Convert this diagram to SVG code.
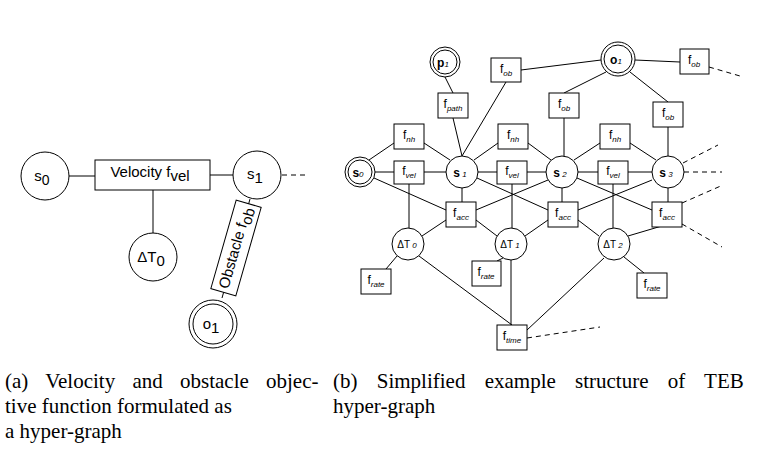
<svg xmlns="http://www.w3.org/2000/svg" width="760" height="475" viewBox="0 0 760 475">
<style>
.n{fill:#fff;stroke:#000;stroke-width:1}
.l{stroke:#000;stroke-width:1;fill:none}
.d{stroke:#000;stroke-width:1;fill:none;stroke-dasharray:5,4}
text{font-family:"Liberation Sans",Arial,sans-serif;fill:#000}
.a{font-size:15px;text-anchor:middle}
.b{font-size:12px;text-anchor:middle}
.t{font-size:10px;text-anchor:middle}
.bs{font-size:12px;text-anchor:middle;font-weight:bold}
.s{font-size:8px;font-style:italic;font-weight:normal}
.c{font-family:"Liberation Serif","Times New Roman",serif;font-size:21px}
</style>
<rect width="760" height="475" fill="#fff"/>
<g id="connectors">
<path class="l" d="M69,176H95M210,175H233M153,190V233M250,199L222,298"/>
<path class="d" d="M282,175H305"/>
<path class="l" d="M445,77L453,93M453,118L462,156M506,82L462,156M521,70L601,60M635,60L680,62M606,72L564,93M564,118V156M630,72L668,102M668,127V156"/>
<path class="d" d="M709,67L740,76M683,163L718,145M684,172H722M682,203L723,185M682,224L722,247M527,338L600,327"/>
<path class="l" d="M375,172H394M424,172H446M478,172H497M527,172H546M578,172H598M628,172H652"/>
<path class="l" d="M369,160L394,143M424,143L450,160M474,160L498,143M528,143L551,160M574,160L600,143M630,143L656,160"/>
<path class="l" d="M409,184V228M512,184V228M613,184V228"/>
<path class="l" d="M374,178L446,210M462,188V202M548,180L476,210M476,220L497,236M446,220L422,236"/>
<path class="l" d="M477,178L548,210M562,188V202M652,180L578,210M578,220L599,236M548,220L525,236"/>
<path class="l" d="M577,178L652,210M668,188V202M682,220L628,236"/>
<path class="l" d="M397,256L386,269M419,256L512,325M511,260V325M503,258L497,261M604,258L527,330M624,257L644,273"/>
</g>
<g id="a_s0"><circle class="n" cx="45" cy="176" r="24"/><text class="a" x="42" y="181">s<tspan font-size="14" dy="4">0</tspan></text></g>
<g id="a_vel"><rect class="n" x="95" y="160" width="115" height="30"/><text class="a" x="150" y="177">Velocity f<tspan dy="4">vel</tspan></text></g>
<g id="a_s1"><circle class="n" cx="257" cy="175" r="24"/><text class="a" x="255" y="179">s<tspan dy="4">1</tspan></text></g>
<g id="a_dt0"><circle class="n" cx="153" cy="257" r="24"/><text class="a" x="151" y="262">ΔT<tspan dy="4">0</tspan></text></g>
<g id="a_ob" transform="translate(236,248) rotate(-74)"><rect class="n" x="-46" y="-13" width="92" height="26"/><text class="a" x="0" y="4">Obstacle f<tspan dy="4">ob</tspan></text></g>
<g id="a_o1"><circle class="n" cx="213" cy="324" r="24"/><circle class="n" cx="213" cy="324" r="20"/><text class="a" x="211" y="329">o<tspan dy="4">1</tspan></text></g>

<g id="p1"><circle class="n" cx="445" cy="62" r="15"/><circle class="n" cx="445" cy="62" r="12"/><text class="bs" x="443" y="67">p<tspan class="s">1</tspan></text></g>
<g id="o1"><circle class="n" cx="618" cy="59" r="17"/><circle class="n" cx="618" cy="59" r="14"/><text class="bs" x="616" y="64">o<tspan class="s">1</tspan></text></g>
<g id="s0"><circle class="n" cx="360" cy="172" r="15"/><circle class="n" cx="360" cy="172" r="12"/><text class="bs" x="358" y="177">s<tspan class="s">0</tspan></text></g>
<g id="s1"><circle class="n" cx="462" cy="172" r="16"/><text class="bs" x="460" y="177">s<tspan class="s"> 1</tspan></text></g>
<g id="s2"><circle class="n" cx="562" cy="172" r="16"/><text class="bs" x="560" y="177">s<tspan class="s"> 2</tspan></text></g>
<g id="s3"><circle class="n" cx="668" cy="172" r="16"/><text class="bs" x="666" y="177">s<tspan class="s"> 3</tspan></text></g>
<g id="dt0"><circle class="n" cx="408" cy="244" r="16"/><text class="t" x="407" y="248">ΔT<tspan class="s"> 0</tspan></text></g>
<g id="dt1"><circle class="n" cx="511" cy="244" r="16"/><text class="t" x="510" y="248">ΔT<tspan class="s"> 1</tspan></text></g>
<g id="dt2"><circle class="n" cx="614" cy="244" r="16"/><text class="t" x="613" y="248">ΔT<tspan class="s"> 2</tspan></text></g>

<g id="fob1"><rect class="n" x="491" y="58" width="30" height="24"/><text class="b" x="506" y="73">f<tspan class="s" dy="3">ob</tspan></text></g>
<g id="fob4"><rect class="n" x="680" y="49" width="29" height="25"/><text class="b" x="694" y="64">f<tspan class="s" dy="3">ob</tspan></text></g>
<g id="fpath"><rect class="n" x="438" y="93" width="30" height="25"/><text class="b" x="453" y="108">f<tspan class="s" dy="3">path</tspan></text></g>
<g id="fob2"><rect class="n" x="549" y="93" width="30" height="25"/><text class="b" x="564" y="108">f<tspan class="s" dy="3">ob</tspan></text></g>
<g id="fob3"><rect class="n" x="653" y="102" width="30" height="25"/><text class="b" x="668" y="117">f<tspan class="s" dy="3">ob</tspan></text></g>
<g id="fnh1"><rect class="n" x="394" y="124" width="30" height="25"/><text class="b" x="409" y="139">f<tspan class="s" dy="3">nh</tspan></text></g>
<g id="fnh2"><rect class="n" x="498" y="124" width="30" height="25"/><text class="b" x="513" y="139">f<tspan class="s" dy="3">nh</tspan></text></g>
<g id="fnh3"><rect class="n" x="600" y="124" width="30" height="25"/><text class="b" x="615" y="139">f<tspan class="s" dy="3">nh</tspan></text></g>
<g id="fvel1"><rect class="n" x="394" y="161" width="30" height="23"/><text class="b" x="409" y="175">f<tspan class="s" dy="3">vel</tspan></text></g>
<g id="fvel2"><rect class="n" x="497" y="161" width="30" height="23"/><text class="b" x="512" y="175">f<tspan class="s" dy="3">vel</tspan></text></g>
<g id="fvel3"><rect class="n" x="598" y="161" width="30" height="23"/><text class="b" x="613" y="175">f<tspan class="s" dy="3">vel</tspan></text></g>
<g id="facc1"><rect class="n" x="446" y="202" width="30" height="25"/><text class="b" x="461" y="217">f<tspan class="s" dy="3">acc</tspan></text></g>
<g id="facc2"><rect class="n" x="548" y="202" width="30" height="25"/><text class="b" x="563" y="217">f<tspan class="s" dy="3">acc</tspan></text></g>
<g id="facc3"><rect class="n" x="652" y="202" width="30" height="25"/><text class="b" x="667" y="217">f<tspan class="s" dy="3">acc</tspan></text></g>
<g id="frate1"><rect class="n" x="361" y="269" width="30" height="25"/><text class="b" x="376" y="284">f<tspan class="s" dy="3">rate</tspan></text></g>
<g id="frate2"><rect class="n" x="472" y="261" width="29" height="25"/><text class="b" x="486" y="276">f<tspan class="s" dy="3">rate</tspan></text></g>
<g id="frate3"><rect class="n" x="637" y="273" width="30" height="25"/><text class="b" x="652" y="288">f<tspan class="s" dy="3">rate</tspan></text></g>
<g id="ftime"><rect class="n" x="497" y="325" width="30" height="25"/><text class="b" x="512" y="340">f<tspan class="s" dy="3">time</tspan></text></g>

<text class="c" x="5" y="388" word-spacing="12">(a) Velocity and obstacle objec-</text>
<text class="c" x="5" y="413">tive function formulated as</text>
<text class="c" x="5" y="438">a hyper-graph</text>
<text class="c" x="333" y="388" word-spacing="14">(b) Simplified example structure of TEB</text>
<text class="c" x="333" y="413">hyper-graph</text>
</svg>
